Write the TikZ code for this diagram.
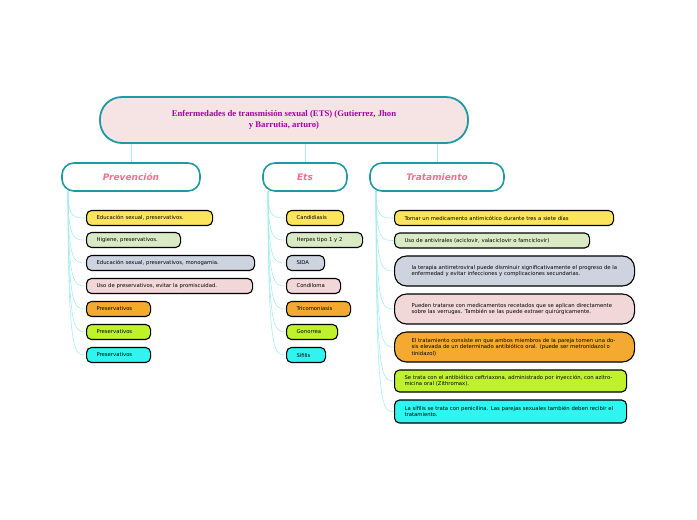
\documentclass[tikz,border=0pt]{standalone}
\usepackage{fontspec}
\setmainfont{Liberation Serif}
\newfontfamily\djfont{DejaVu Sans}
\definecolor{teal1}{HTML}{1E9AA0}
\definecolor{conn}{HTML}{A8ECEC}
\definecolor{pk}{HTML}{F07090}
\definecolor{cY}{HTML}{FCE45C}
\definecolor{cG}{HTML}{D9EAC5}
\definecolor{cB}{HTML}{CDD4DF}
\definecolor{cP}{HTML}{F2D7D8}
\definecolor{cO}{HTML}{F4AA30}
\definecolor{cL}{HTML}{C0F22C}
\definecolor{cC}{HTML}{2FF5F0}
\begin{document}
\begin{tikzpicture}[x=1pt,y=-1pt,
 hdr/.style={draw=teal1,line width=1.6pt,fill=white,rounded corners=12pt,minimum height=28pt,text=pk,font=\djfont\bfseries\itshape\fontsize{9}{10}\selectfont,inner sep=0pt},
 leaf/.style={draw=black,line width=1.1pt,rounded corners=5pt,anchor=west,inner xsep=10pt,inner ysep=0pt,align=left,font=\djfont\fontsize{5.3}{6.4}\selectfont},
 big/.style={leaf,rounded corners=12pt,inner xsep=17pt},
 cn/.style={draw=conn,line width=0.6pt}]
\useasboundingbox (0,0) rectangle (697,520);
\node[draw=teal1,line width=1.8pt,fill=cP!70!white,rounded corners=22pt,minimum width=368pt,minimum height=46pt,text=violet!70!magenta,font=\bfseries\fontsize{8.7}{11}\selectfont,align=center] (root) at (284,120) {Enfermedades de transmisión sexual (ETS) (Gutierrez, Jhon\\y Barrutia, arturo)};
\node[hdr,minimum width=138pt] (pv) at (131,177) {Prevención};
\node[hdr,minimum width=84pt] (et) at (305,177) {Ets};
\node[hdr,minimum width=134pt] (tr) at (437,177) {Tratamiento};
\draw[cn] (pv.north) -- (pv.north|-root.south);
\draw[cn] (et.north) -- (et.north|-root.south);
\draw[cn] (tr.north) -- (tr.north|-root.south);
% Prevencion
\foreach \n/\y/\w/\c/\t in {p1/218/126/cY/{Educación sexual, preservativos.},p2/240/94/cG/{Higiene, preservativos.},p3/263/168/cB/{Educación sexual, preservativos, monogamia.},p4/286/166/cP/{Uso de preservativos, evitar la promiscuidad.},p5/309/64/cO/Preservativos,p6/332/64/cL/Preservativos,p7/355/64/cC/Preservativos}{
 \node[leaf,fill=\c,minimum width=\w pt,text width={\w pt-20pt},minimum height=15pt] (\n) at (86,\y) {\t};
 \draw[cn] (68,191) .. controls (68,\y) and (74,\y) .. (\n.west);}
% Ets
\foreach \n/\y/\w/\c/\t in {e1/218/57/cY/Candidiasis,e2/240/76/cG/{Herpes tipo 1 y 2},e3/263/38/cB/SIDA,e4/286/54/cP/Condiloma,e5/309/64/cO/Tricomoniasis,e6/332/51/cL/Gonorrea,e7/355/39/cC/Sífilis}{
 \node[leaf,fill=\c,minimum width=\w pt,text width={\w pt-20pt},minimum height=15pt] (\n) at (286,\y) {\t};
 \draw[cn] (268,191) .. controls (268,\y) and (274,\y) .. (\n.west);}
% Tratamiento
\foreach \n/\y/\w/\h/\c/\s/\p/\t in {
 t1/218/219/15/cY/leaf/20/{Tomar un medicamento antimicótico durante tres a siete días},
 t2/240.5/195/15/cG/leaf/20/{Uso de antivirales (aciclovir, valaciclovir o famciclovir)},
 t3/271/240/30/cB/big/34/{la terapia antirretroviral puede disminuir significativamente el progreso de la enfermedad y evitar infecciones y complicaciones secundarias.},
 t4/309/240/30/cP/big/34/{Pueden tratarse con medicamentos recetados que se aplican directamente sobre las verrugas. También se las puede extraer quirúrgicamente.},
 t5/347/240/30/cO/big/34/{El tratamiento consiste en que ambos miembros de la pareja tomen una dosis elevada de un determinado antibiótico oral. (puede ser metronidazol o tinidazol)},
 t6/381/232/22/cL/leaf/20/{Se trata con el antibiótico ceftriaxona, administrado por inyección, con azitromicina oral (Zithromax).},
 t7/411.5/232/23/cC/leaf/20/{La sífilis se trata con penicilina. Las parejas sexuales también deben recibir el tratamiento.}}{
 \node[\s,fill=\c,minimum width=\w pt,text width={\w pt-\p pt},minimum height=\h pt] (\n) at (394,\y) {\t};
 \draw[cn] (376,191) .. controls (376,\y) and (382,\y) .. (\n.west);}
\end{tikzpicture}
\end{document}
